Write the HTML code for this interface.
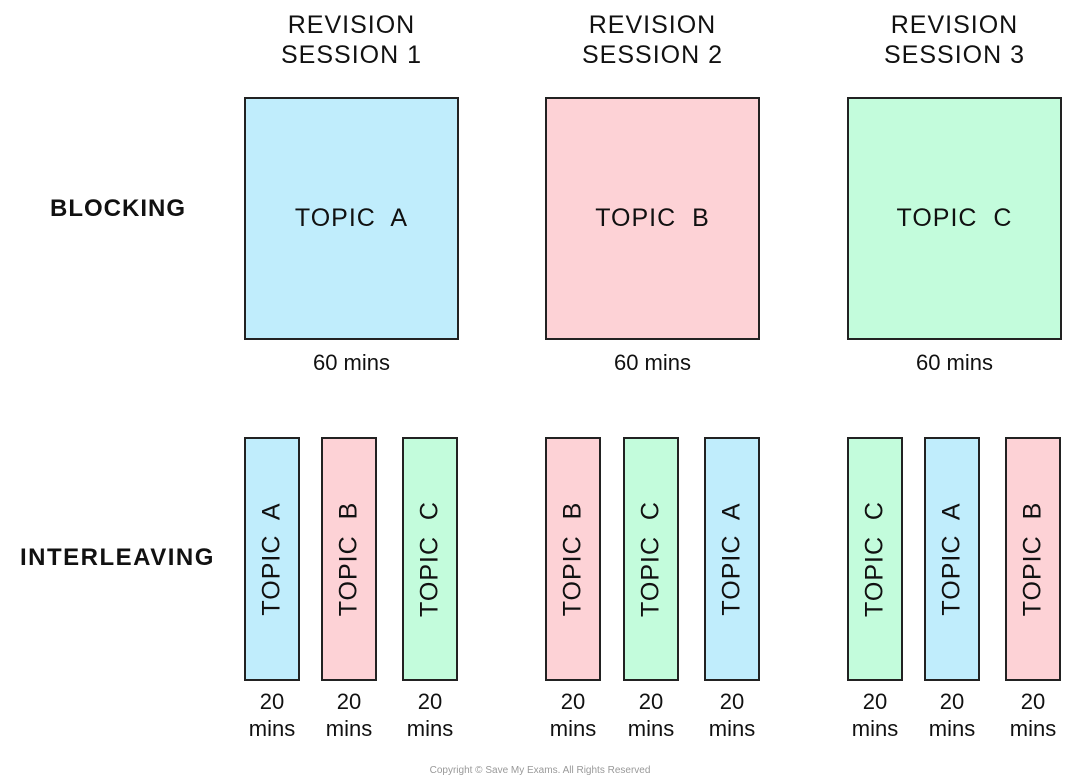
<!DOCTYPE html>
<html><head><meta charset="utf-8"><style>
html,body{margin:0;padding:0;background:#fff;}
body{width:1080px;height:783px;position:relative;overflow:hidden;font-family:"Liberation Sans","DejaVu Sans",sans-serif;color:#111;}
.t{position:absolute;text-align:center;white-space:nowrap;}
.box{position:absolute;border:2px solid #222;box-sizing:border-box;}
.b{background:#c0edfc;}.p{background:#fdd2d6;}.g{background:#c3fcdc;}
.big{top:97px;height:243px;width:215px;display:flex;align-items:center;justify-content:center;font-size:25px;letter-spacing:1px;}
.sm{top:437px;height:244px;width:56px;}
.sm span{position:absolute;left:50%;top:50%;transform:translate(-50%,-50%) rotate(-90deg);font-size:25px;white-space:nowrap;letter-spacing:1px;}
.hd{font-size:25px;line-height:30px;top:10px;width:215px;letter-spacing:1px;}
.m60{font-size:22px;top:350px;width:215px;}
.m20{font-size:22px;line-height:27px;top:688px;width:80px;}
.lab{font-size:24px;font-weight:bold;}
</style></head><body>
<div class="t hd" style="left:244px">REVISION<br>SESSION 1</div>
<div class="t hd" style="left:545px">REVISION<br>SESSION 2</div>
<div class="t hd" style="left:847px">REVISION<br>SESSION 3</div>
<div class="t lab" style="left:50px;top:195px;letter-spacing:1px">BLOCKING</div>
<div class="t lab" style="left:20px;top:544px;letter-spacing:1.5px">INTERLEAVING</div>

<div class="box big b" style="left:244px">TOPIC&nbsp; A</div>
<div class="box big p" style="left:545px">TOPIC&nbsp; B</div>
<div class="box big g" style="left:847px">TOPIC&nbsp; C</div>
<div class="t m60" style="left:244px">60 mins</div>
<div class="t m60" style="left:545px">60 mins</div>
<div class="t m60" style="left:847px">60 mins</div>

<div class="box sm b" style="left:244px"><span>TOPIC&nbsp; A</span></div>
<div class="box sm p" style="left:321px"><span>TOPIC&nbsp; B</span></div>
<div class="box sm g" style="left:402px"><span>TOPIC&nbsp; C</span></div>
<div class="box sm p" style="left:545px"><span>TOPIC&nbsp; B</span></div>
<div class="box sm g" style="left:623px"><span>TOPIC&nbsp; C</span></div>
<div class="box sm b" style="left:704px"><span>TOPIC&nbsp; A</span></div>
<div class="box sm g" style="left:847px"><span>TOPIC&nbsp; C</span></div>
<div class="box sm b" style="left:924px"><span>TOPIC&nbsp; A</span></div>
<div class="box sm p" style="left:1005px"><span>TOPIC&nbsp; B</span></div>

<div class="t m20" style="left:232px">20<br>mins</div>
<div class="t m20" style="left:309px">20<br>mins</div>
<div class="t m20" style="left:390px">20<br>mins</div>
<div class="t m20" style="left:533px">20<br>mins</div>
<div class="t m20" style="left:611px">20<br>mins</div>
<div class="t m20" style="left:692px">20<br>mins</div>
<div class="t m20" style="left:835px">20<br>mins</div>
<div class="t m20" style="left:912px">20<br>mins</div>
<div class="t m20" style="left:993px">20<br>mins</div>

<div class="t" style="left:0;width:1080px;top:765px;font-size:10px;color:#999">Copyright © Save My Exams. All Rights Reserved</div>
</body></html>
